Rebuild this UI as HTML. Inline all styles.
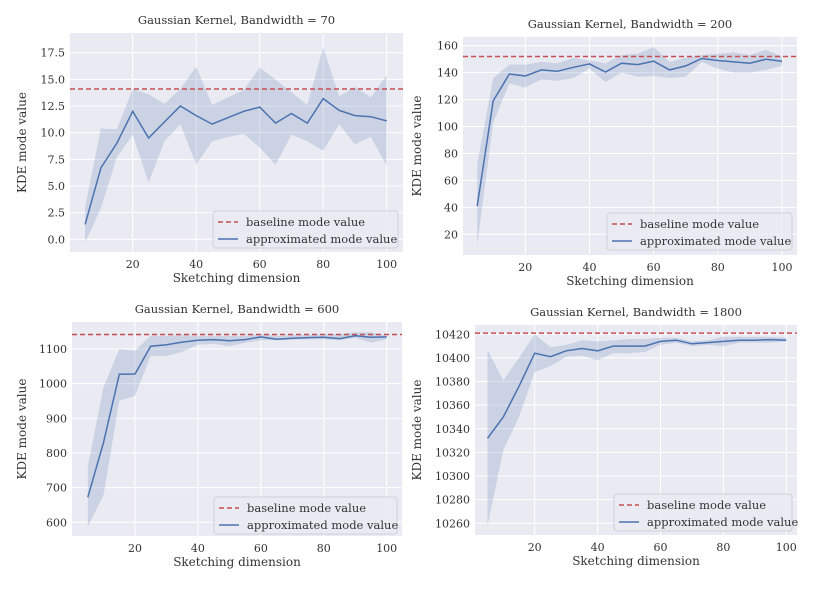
<!DOCTYPE html>
<html><head><meta charset="utf-8">
<style>
body{margin:0;background:#fff;}
svg text{font-family:"DejaVu Serif","Liberation Serif",serif;fill:#333;}
</style></head>
<body>
<svg id="fig" width="818" height="592" viewBox="0 0 818 592" xmlns="http://www.w3.org/2000/svg"></svg>
<script>
const xs = [5,10,15,20,25,30,35,40,45,50,55,60,65,70,75,80,85,90,95,100];
const xTicks = [20,40,60,80,100];

const mean70 = [1.4,6.7,9.0,12.0,9.5,11.0,12.5,11.6,10.8,11.4,12.0,12.4,10.9,11.8,10.9,13.2,12.1,11.6,11.5,11.1];
const upper70 = [3.0,10.4,10.3,14.1,13.6,12.7,14.1,16.2,12.6,13.3,14.0,16.1,15.0,13.8,12.6,18.0,13.4,14.3,13.3,15.4];
const lower70 = [-0.3,2.9,7.7,9.8,5.3,9.2,10.8,7.0,9.2,9.6,9.9,8.6,7.0,9.8,9.2,8.3,10.8,8.9,9.6,6.9];
const base70 = 14.1;
const yTicks70 = [0,2.5,5,7.5,10,12.5,15,17.5];
const yLabels70 = ["0.0","2.5","5.0","7.5","10.0","12.5","15.0","17.5"];

const mean200 = [41,119,139,137.5,142,141,144,146.5,140.5,147,146,148.5,142,145,150.5,149,148,147,150,148.5];
const upper200 = [72,136,146,146,148,147,151,149,147,153,154,159,148,151,153,154,155,153,157,152];
const lower200 = [12,103,132,129,135,134,136,143,133,140,137,137.5,136,137,148,143,140,140,142,145];
const base200 = 152;
const yTicks200 = [20,40,60,80,100,120,140,160];

const mean600 = [672,830,1027,1028,1108,1112,1120,1125,1127,1124,1127,1135,1128,1131,1133,1134,1130,1138,1134,1135];
const upper600 = [760,990,1100,1095,1138,1138,1140,1138,1138,1138,1138,1142,1138,1140,1140,1142,1142,1148,1148,1138];
const lower600 = [588,678,950,965,1080,1080,1092,1112,1115,1108,1118,1125,1125,1127,1128,1128,1125,1132,1118,1128];
const base600 = 1142;
const yTicks600 = [600,700,800,900,1000,1100];

const mean1800 = [10332,10350,10376,10404,10401,10406,10408,10406,10410,10410,10410,10414,10415,10412,10413,10414,10415,10415,10415.5,10415];
const upper1800 = [10407,10381,10400,10420,10409,10411,10415,10414,10415,10416,10416,10417,10417,10414,10415,10418,10418,10418,10418,10417];
const lower1800 = [10258,10322,10350,10388,10393,10401,10402,10398,10404,10404,10405,10411,10413,10410,10411,10410,10413,10413,10413,10414];
const base1800 = 10421;
const yTicks1800 = [10260,10280,10300,10320,10340,10360,10380,10400,10420];

const NS = "http://www.w3.org/2000/svg";
const fig = document.getElementById('fig');
function mk(tag, attrs, parent){
  const e = document.createElementNS(NS, tag);
  for (const k in attrs) e.setAttribute(k, attrs[k]);
  (parent||fig).appendChild(e);
  return e;
}

function panel(cfg){
  const g = mk('g', {});
  
  
  const X = v => cfg.x20 + (v-20)*(cfg.x100-cfg.x20)/80;
  const Y = v => cfg.ya + (v-cfg.va)*(cfg.yb-cfg.ya)/(cfg.vb-cfg.va);
  const bg = mk('rect', {x:cfg.L, y:cfg.T, width:cfg.R-cfg.L, height:cfg.B-cfg.T, fill:'#eaeaf2'}, g);
  
  
  cfg.yt.forEach((v,i)=>{
    const y = Y(v);
    const gl = mk('line', {x1:cfg.L, x2:cfg.R, y1:y, y2:y, stroke:'#fff', 'stroke-width':1}, g);
    
    
    const t = mk('text', {x:cfg.L-5, y:y+4, 'text-anchor':'end', 'font-size':11}, g);
    
    
    t.textContent = cfg.yl ? cfg.yl[i] : String(v);
  });
  xTicks.forEach(v=>{
    const x = X(v);
    const gl = mk('line', {x1:x, x2:x, y1:cfg.T, y2:cfg.B, stroke:'#fff', 'stroke-width':1}, g);
    
    
    const t = mk('text', {x:x, y:cfg.B+16, 'text-anchor':'middle', 'font-size':11}, g);
    
    
    t.textContent = String(v);
  });
  let d = '';
  xs.forEach((v,i)=>{ d += (i?'L':'M') + X(v).toFixed(1) + ',' + Y(cfg.up[i]).toFixed(1); });
  for (let i=xs.length-1;i>=0;i--) d += 'L' + X(xs[i]).toFixed(1) + ',' + Y(cfg.lo[i]).toFixed(1);
  const band = mk('path', {d:d+'Z', fill:'#4c72b0', 'fill-opacity':0.2, stroke:'none'}, g);
  
  
  const by = Y(cfg.base);
  const bl = mk('line', {x1:cfg.L, x2:cfg.R, y1:by, y2:by, stroke:'#c44e52', 'stroke-width':1.5, 'stroke-dasharray':'5,3'}, g);
  
  
  let p = '';
  xs.forEach((v,i)=>{ p += (i?'L':'M') + X(v).toFixed(1) + ',' + Y(cfg.m[i]).toFixed(1); });
  const ml = mk('path', {d:p, fill:'none', stroke:'#4c72b0', 'stroke-width':1.5}, g);
  
  
  const tt = mk('text', {x:(cfg.L+cfg.R)/2, y:cfg.T-9, 'text-anchor':'middle', 'font-size':11.5}, g);
  
  
  tt.textContent = cfg.title;
  const xl = mk('text', {x:(cfg.L+cfg.R)/2, y:cfg.B+30, 'text-anchor':'middle', 'font-size':12}, g);
  
  
  xl.textContent = 'Sketching dimension';
  const yx = cfg.yax, yy = (cfg.T+cfg.B)/2;
  const yl = mk('text', {x:yx, y:yy, 'text-anchor':'middle', 'font-size':12, transform:`rotate(-90 ${yx} ${yy})`}, g);
  
  
  yl.textContent = 'KDE mode value';
  // legend
  const lg = mk('g', {}, g);
  
  
  const lx = cfg.lgx, ly = cfg.lgy, lw = cfg.R-5-lx, lh = 37;
  mk('rect', {x:lx, y:ly, width:lw, height:lh, rx:3, fill:'#eaeaf2', 'fill-opacity':0.8, stroke:'#d0d0d8'}, lg);
  const e1 = mk('line', {x1:lx+5, x2:lx+25, y1:ly+11, y2:ly+11, stroke:'#c44e52', 'stroke-width':1.5, 'stroke-dasharray':'5,3'}, lg);
  
  
  const t1 = mk('text', {x:lx+33, y:ly+15, 'font-size':11.5}, lg);
  
  
  t1.textContent = 'baseline mode value';
  const e2 = mk('line', {x1:lx+5, x2:lx+25, y1:ly+28, y2:ly+28, stroke:'#4c72b0', 'stroke-width':1.5}, lg);
  
  
  const t2 = mk('text', {x:lx+33, y:ly+32, 'font-size':11.5}, lg);
  
  
  t2.textContent = 'approximated mode value';
}

panel({name:'panel-bandwidth-70', title:'Gaussian Kernel, Bandwidth = 70', L:70,R:403,T:33,B:252,
  x20:132.7,x100:386.7, va:0,ya:239.3, vb:17.5,yb:52.7, yt:yTicks70, yl:yLabels70,
  m:mean70, up:upper70, lo:lower70, base:base70, yax:26, lgx:213, lgy:211});
panel({name:'panel-bandwidth-200', title:'Gaussian Kernel, Bandwidth = 200', L:463,R:797,T:37,B:255,
  x20:525.3,x100:782, va:20,ya:234.3, vb:160,yb:45.7, yt:yTicks200,
  m:mean200, up:upper200, lo:lower200, base:base200, yax:421, lgx:607, lgy:213});
panel({name:'panel-bandwidth-600', title:'Gaussian Kernel, Bandwidth = 600', L:72,R:402,T:322,B:536,
  x20:135,x100:386.7, va:600,ya:522.3, vb:1100,yb:349, yt:yTicks600,
  m:mean600, up:upper600, lo:lower600, base:base600, yax:26, lgx:214, lgy:497});
panel({name:'panel-bandwidth-1800', title:'Gaussian Kernel, Bandwidth = 1800', L:475,R:797,T:325,B:535,
  x20:534.7,x100:786.3, va:10260,ya:523.3, vb:10420,yb:334.3, yt:yTicks1800,
  m:mean1800, up:upper1800, lo:lower1800, base:base1800, yax:421, lgx:614, lgy:494});
</script>
</body></html>
